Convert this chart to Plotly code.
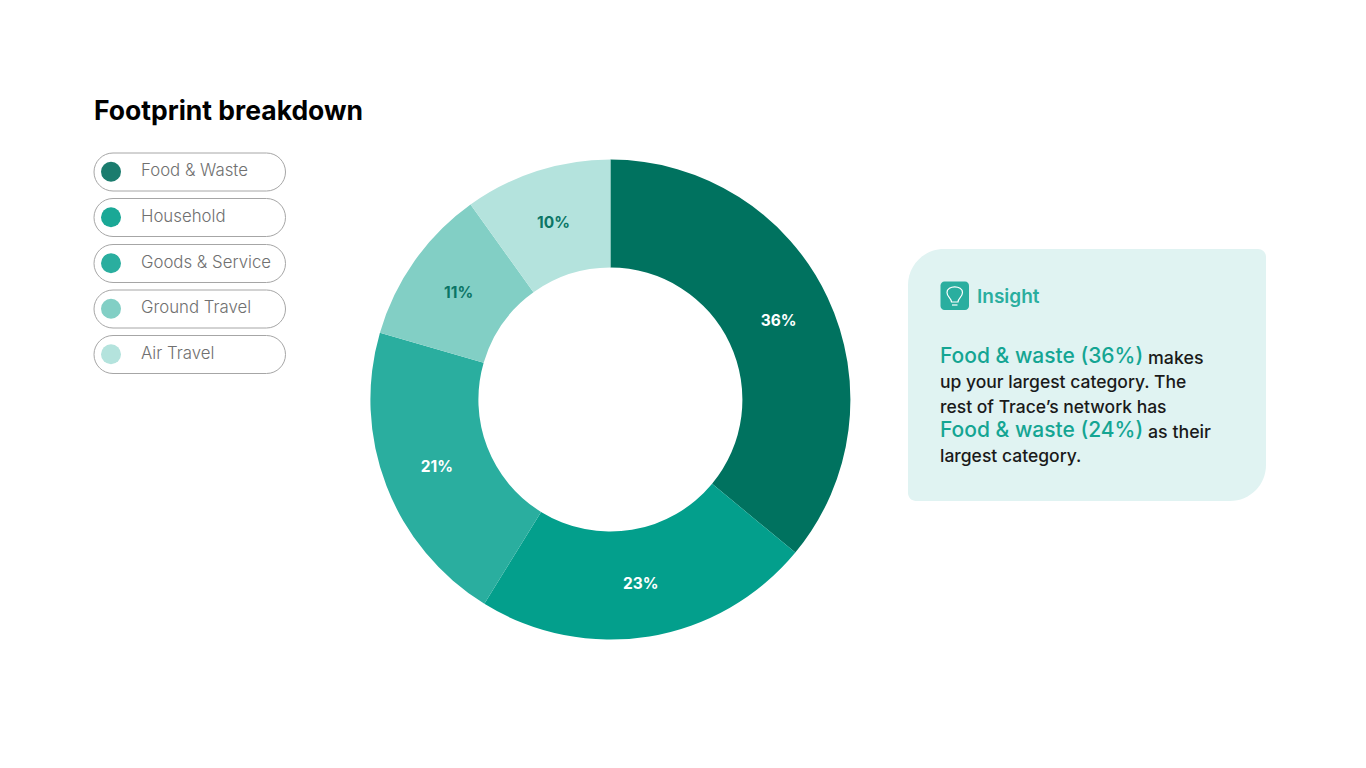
import plotly.graph_objects as go

W, H = 1366, 768
FONT = "Inter, 'Open Sans', sans-serif"

categories = ["Food & Waste", "Household", "Goods & Service", "Ground Travel", "Air Travel"]
values = [36, 22.8, 20.7, 10.6, 9.9]
labels = ["36%", "23%", "21%", "11%", "10%"]
slice_colors = ["#00725F", "#039F8C", "#2AAE9F", "#82CFC5", "#B4E3DD"]
dot_colors = ["#1B7C6E", "#1AA896", "#2AAE9F", "#82CFC5", "#B4E3DD"]
label_colors = ["white", "white", "white", "#0B7565", "#0B7565"]
TEAL = "#14A593"
INK = "#1A1A1A"


def px(x):
    return x / W


def py(y):
    return 1 - y / H


def rrect(x0, y0, x1, y1, tl, tr, br, bl):
    """Rounded rectangle path in paper fractions, from pixel corners."""
    k = 0.5523
    pts = [
        f"M {px(x0 + tl)} {py(y0)}",
        f"L {px(x1 - tr)} {py(y0)}",
        f"C {px(x1 - tr + k * tr)} {py(y0)} {px(x1)} {py(y0 + tr - k * tr)} {px(x1)} {py(y0 + tr)}",
        f"L {px(x1)} {py(y1 - br)}",
        f"C {px(x1)} {py(y1 - br + k * br)} {px(x1 - br + k * br)} {py(y1)} {px(x1 - br)} {py(y1)}",
        f"L {px(x0 + bl)} {py(y1)}",
        f"C {px(x0 + bl - k * bl)} {py(y1)} {px(x0)} {py(y1 - bl + k * bl)} {px(x0)} {py(y1 - bl)}",
        f"L {px(x0)} {py(y0 + tl)}",
        f"C {px(x0)} {py(y0 + tl - k * tl)} {px(x0 + tl - k * tl)} {py(y0)} {px(x0 + tl)} {py(y0)}",
        "Z",
    ]
    return " ".join(pts)


def text(x, y, s, size, color, weight=400, anchor="left"):
    # annotations carry about 2px of padding on the left; take it back
    return dict(
        xref="paper", yref="paper", x=px(x - 2), y=py(y), text=s, showarrow=False,
        xanchor=anchor, yanchor="middle", align="left",
        font=dict(family=FONT, size=size, color=color, weight=weight),
    )


fig = go.Figure(
    go.Pie(
        labels=categories, values=values, text=labels, textinfo="text",
        textposition="inside", insidetextorientation="horizontal",
        marker=dict(colors=slice_colors, line=dict(width=0)),
        textfont=dict(family=FONT, size=15.5, weight=700, color=label_colors),
        hole=0.55, sort=False, direction="clockwise", rotation=0,
        domain=dict(x=[px(370.4), px(850.4)], y=[py(639.6), py(159.6)]),
        showlegend=False, hoverinfo="label+text",
    )
)

shapes = []
annotations = [text(94, 110, "Footprint breakdown", 26.5, "#000000", 700)]

pill_tops = [153, 198.5, 244.5, 290, 335.5]
for top, name, c in zip(pill_tops, categories, dot_colors):
    shapes.append(dict(type="path", xref="paper", yref="paper",
                       path=rrect(94, top, 285.5, top + 38, 19, 19, 19, 19),
                       line=dict(color="#A6A6A6", width=1), fillcolor="white"))
    cy = top + 18.7
    shapes.append(dict(type="circle", xref="paper", yref="paper",
                       x0=px(101), x1=px(121), y0=py(cy + 10), y1=py(cy - 10),
                       line=dict(width=0), fillcolor=c))
    annotations.append(text(141, cy - 1.5, name, 16.8, "#707070", 300))

# Insight card
shapes.append(dict(type="path", xref="paper", yref="paper",
                   path=rrect(908, 249, 1266, 501, 36, 8, 36, 8),
                   line=dict(width=0), fillcolor="#E0F3F2"))
# Icon tile
shapes.append(dict(type="path", xref="paper", yref="paper",
                   path=rrect(940.5, 281.5, 969, 310, 4, 4, 4, 4),
                   line=dict(width=0), fillcolor="#2AAE9F"))
# Light bulb
shapes.append(dict(type="path", xref="paper", yref="paper",
                   path=(f"M {px(951.5)} {py(302)} L {px(958)} {py(302)} "
                         f"C {px(958)} {py(298)} {px(962.5)} {py(297)} {px(962.5)} {py(292.5)} "
                         f"C {px(962.5)} {py(285)} {px(947)} {py(285)} {px(947)} {py(292.5)} "
                         f"C {px(947)} {py(297)} {px(951.5)} {py(298)} {px(951.5)} {py(302)} Z"),
                   line=dict(color="white", width=1.2), fillcolor="rgba(0,0,0,0)"))
shapes.append(dict(type="line", xref="paper", yref="paper",
                   x0=px(952), x1=px(957.5), y0=py(305), y1=py(305),
                   line=dict(color="white", width=1.2)))

annotations.append(text(977, 296, "Insight", 19, "#2AAE9F", 600))

annotations += [
    text(940, 355.5, "Food &amp; waste (36%)", 21, TEAL, 500),
    text(1148, 357, "makes", 17.8, INK, 500),
    text(940, 381.5, "up your largest category. The", 17.5, INK, 500),
    text(940, 406, "rest of Trace\u2019s network has", 17.5, INK, 500),
    text(940, 429.5, "Food &amp; waste (24%)", 21, TEAL, 500),
    text(1148, 431, "as their", 17.8, INK, 500),
    text(940, 455.5, "largest category.", 17.5, INK, 500),
]

fig.update_layout(
    width=W, height=H, margin=dict(l=0, r=0, t=0, b=0),
    paper_bgcolor="white", plot_bgcolor="white",
    shapes=shapes, annotations=annotations,
)

fig.write_html("out.html", config=dict(displayModeBar=False),
               post_script="document.body.style.margin='0';")
